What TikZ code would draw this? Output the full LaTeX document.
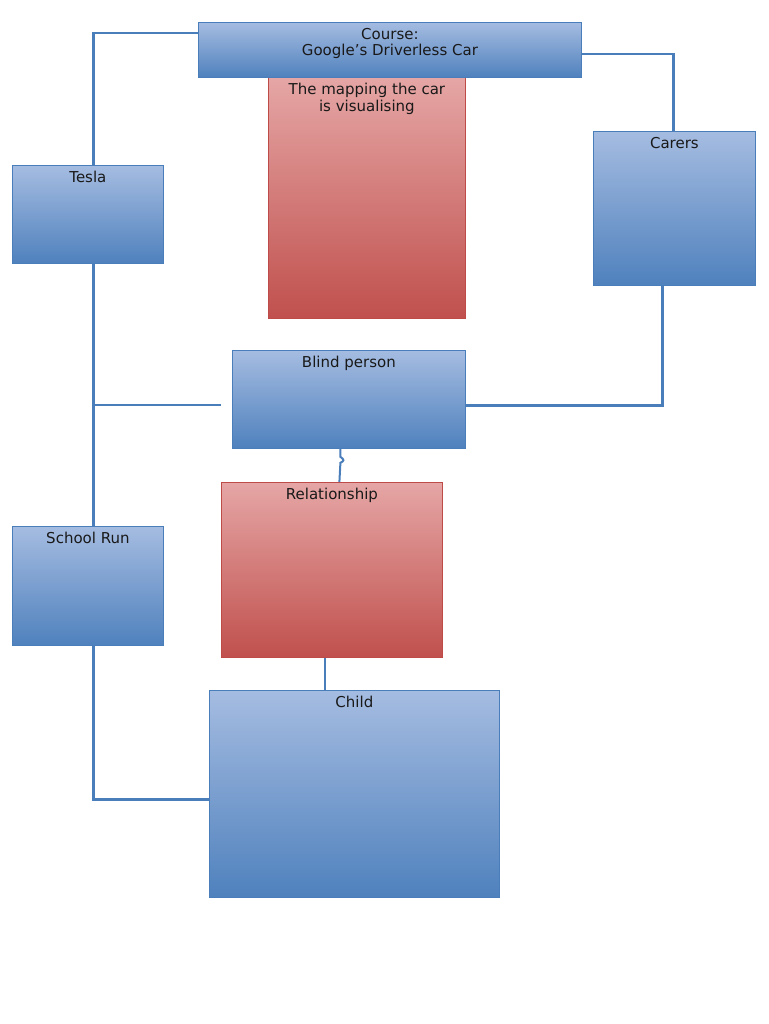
\documentclass[tikz,border=0pt]{standalone}
\usepackage{fontspec}
\setmainfont{DejaVu Sans}
\definecolor{boxtop}{RGB}{165,188,225}
\definecolor{boxbot}{RGB}{79,129,189}
\definecolor{boxline}{RGB}{74,126,187}
\definecolor{redtop}{RGB}{229,166,165}
\definecolor{redbot}{RGB}{192,80,77}
\definecolor{redline}{RGB}{190,75,72}
\tikzset{
  bluebox/.style={draw=boxline, line width=0.8pt, top color=boxtop, bottom color=boxbot, anchor=north west, inner sep=0pt},
  redbox/.style={draw=redline, line width=0.8pt, top color=redtop, bottom color=redbot, anchor=north west, inner sep=0pt},
  boxtext/.style={label={[anchor=north, inner sep=0pt, yshift=-6pt, align=center, font=\fontsize{15}{16.5}\selectfont, text=black!90]north:#1}},
  conn/.style={draw=boxline, line width=2.2pt}
}
\begin{document}
\begin{tikzpicture}[x=1pt, y=-1pt]
  \useasboundingbox (0,0) rectangle (768,1024);
  \node[redbox, minimum width=197pt, minimum height=241pt, boxtext={The mapping the car\\is visualising}] (mapping) at (268,77) {};
  \node[bluebox, minimum width=383pt, minimum height=55pt, boxtext={Course:\\Google’s Driverless Car}] (course) at (198,22) {};
  \node[bluebox, minimum width=162pt, minimum height=154pt, boxtext={Carers}] (carers) at (593,131) {};
  \node[bluebox, minimum width=151pt, minimum height=98pt, boxtext={Tesla}] (tesla) at (12,165) {};
  \node[bluebox, minimum width=233pt, minimum height=98pt, boxtext={Blind person}] (blind) at (232,350) {};
  \node[redbox, minimum width=221pt, minimum height=175pt, boxtext={Relationship}] (rel) at (221,482) {};
  \node[bluebox, minimum width=151pt, minimum height=119pt, boxtext={School Run}] (school) at (12,526) {};
  \node[bluebox, minimum width=290pt, minimum height=207pt, boxtext={Child}] (child) at (209,690) {};
  \coordinate (spine) at ([xshift=5.5pt]tesla.south);
  \coordinate (branch) at (221,405);
  \draw[conn] ([yshift=16.5pt]course.west) -| ([xshift=5.5pt]tesla.north);
  \draw[conn] ([yshift=-4.5pt]course.east) -| ([xshift=-1pt]carers.north);
  \draw[conn] (spine) -- ([xshift=5.5pt]school.north);
  \draw[conn] (spine |- branch) -- (branch);
  \draw[conn] ([yshift=-6pt]blind.east) -| ([xshift=-12pt]carers.south);
  \draw[conn, line width=2pt] ([xshift=-8.5pt]blind.south) -- ++(0,8) .. controls ++(4,3) and ++(4,-2) .. ++(0,6) -- ([xshift=7.5pt]rel.north);
  \draw[conn, line width=2pt] ([xshift=-6.5pt]rel.south) -- ([xshift=-29pt]child.north);
  \draw[conn] ([xshift=5.5pt]school.south) |- ([yshift=-5.5pt]child.west);
\end{tikzpicture}
\end{document}
